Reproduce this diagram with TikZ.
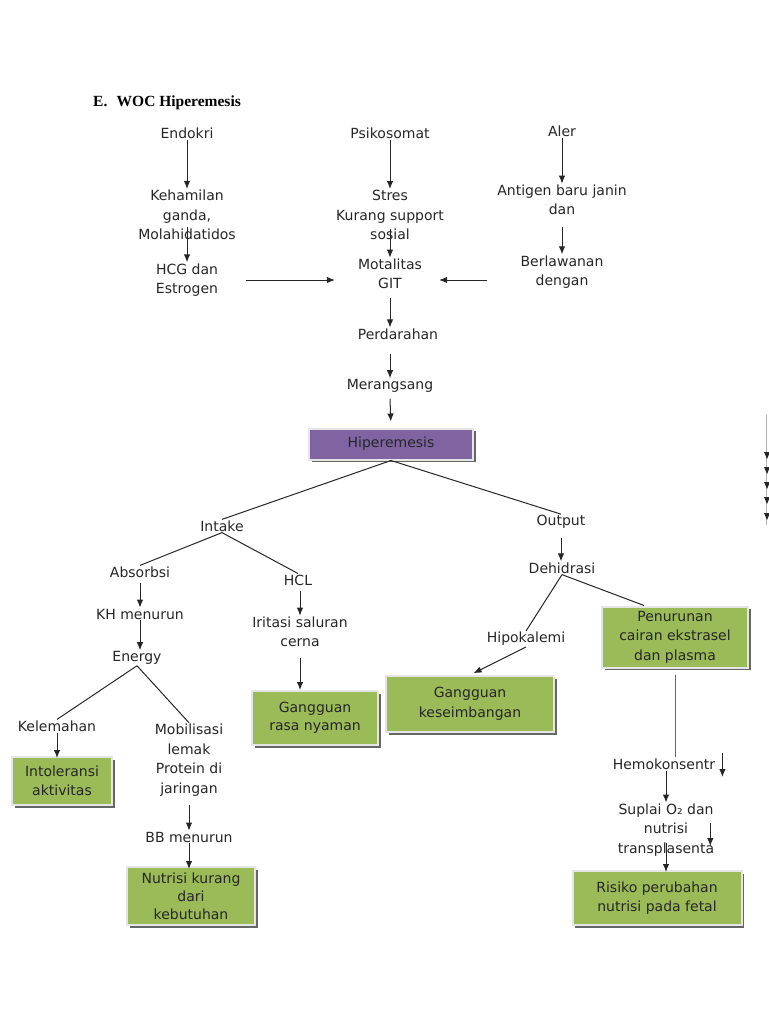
\documentclass[tikz,border=0pt]{standalone}
\usepackage{fontspec}
\setmainfont{DejaVu Sans}
\newfontfamily\titlefont{Liberation Serif}
\usetikzlibrary{arrows.meta, shadows}
\definecolor{hipurple}{HTML}{8064A2}
\definecolor{boxgreen}{HTML}{9BBB59}
\begin{document}
\begin{tikzpicture}[>={Latex[length=8pt,width=6.5pt]}, x=1pt, y=-1pt,
  font=\fontsize{14}{19.5}\selectfont,
  lbl/.style={align=center, text=black!85, inner sep=1pt},
  arr/.style={->, line width=1pt, draw=black!85},
  ln/.style={line width=1pt, draw=black!85},
  wordbox/.style={align=center, text=black!85, inner sep=3pt, draw=black!10, line width=2pt,
    drop shadow={shadow xshift=2.5pt, shadow yshift=-2.5pt, fill=black!60, opacity=1}},
  greenbox/.style={wordbox, fill=boxgreen},
  purplebox/.style={wordbox, fill=hipurple}]
\useasboundingbox (0,0) rectangle (768,1024);
\node[anchor=base west, inner sep=0pt, font=\titlefont\bfseries\fontsize{15.5}{18}\selectfont] (title) at (93,107) {E.\hspace{0.6em}WOC Hiperemesis};
\node[lbl] (endo) at (187,133) {Endokri};
\node[lbl] (keham) at (187,215) {Kehamilan\\ganda,\\Molahidatidos};
\node[lbl] (hcg) at (187,280) {HCG dan\\Estrogen};
\node[lbl] (psiko) at (390,133) {Psikosomat};
\node[lbl] (stres) at (390,215) {Stres\\Kurang support\\sosial};
\node[lbl] (motal) at (390,274) {Motalitas\\GIT};
\node[lbl] (aler) at (562,131) {Aler};
\node[lbl] (antigen) at (562,200) {Antigen baru janin\\dan};
\node[lbl] (berlaw) at (562,272) {Berlawanan\\dengan};
\node[lbl] (perdar) at (398,334) {Perdarahan};
\node[lbl] (merang) at (390,386) {Merangsang};
\node[purplebox, minimum width=164, minimum height=31] (hiper) at (391,444) {Hiperemesis};
\node[lbl] (intake) at (222,526) {Intake};
\node[lbl] (output) at (561,522) {Output};
\node[lbl] (absorb) at (140,572) {Absorbsi};
\node[lbl] (kh) at (140,614) {KH menurun};
\node[lbl] (energy) at (137,658) {Energy};
\node[lbl] (lemah) at (57,726) {Kelemahan};
\node[greenbox, minimum width=100, minimum height=48] (intol) at (62,781) {Intoleransi\\aktivitas};
\node[lbl] (mobil) at (189,760) {Mobilisasi\\lemak\\Protein di\\jaringan};
\node[lbl] (bb) at (189,837) {BB menurun};
\node[greenbox, minimum width=128, minimum height=58, font=\fontsize{14}{18}\selectfont] (nutri) at (191,896) {Nutrisi kurang\\dari\\kebutuhan};
\node[lbl] (hcl) at (298,580) {HCL};
\node[lbl] (iritasi) at (300,632) {Iritasi saluran\\cerna};
\node[greenbox, minimum width=126, minimum height=54, font=\fontsize{14}{18}\selectfont] (rasa) at (315,718) {Gangguan\\rasa nyaman};
\node[lbl] (dehid) at (562,568) {Dehidrasi};
\node[lbl] (hipok) at (526,639) {Hipokalemi};
\node[greenbox, minimum width=168, minimum height=56] (kesei) at (470,704) {Gangguan\\keseimbangan};
\node[greenbox, minimum width=146, minimum height=61] (penur) at (675,637) {Penurunan\\cairan ekstrasel\\dan plasma};
\node[lbl] (hemo) at (664,764) {Hemokonsentr};
\node[lbl] (suplai) at (666,830) {Suplai O₂ dan\\nutrisi\\transplasenta};
\node[greenbox, minimum width=169, minimum height=54] (risiko) at (657,898) {Risiko perubahan\\nutrisi pada fetal};
\draw[arr] (endo) -- (keham);
\draw[arr] ([yshift=14pt]keham.south) -- (hcg.north);
\draw[arr] (psiko) -- (stres);
\draw[arr] ([yshift=12pt]stres.south) -- (motal.north);
\draw[arr] ([xshift=27pt]hcg.east) -- ([xshift=-22pt]motal.west |- hcg.east);
\draw[arr] ([xshift=-32pt]berlaw.west |- hcg.east) -- ([xshift=16pt]motal.east |- hcg.east);
\draw[arr] (aler) -- (antigen);
\draw[arr] ([yshift=-11pt]antigen.south) -- (berlaw.north);
\draw[arr] ([yshift=-8pt]motal.south) -- (motal.south |- perdar.north);
\draw[arr] ([yshift=-13pt]perdar.south -| merang) -- (merang.north);
\draw[arr, shorten >=6pt] ([yshift=-5pt]merang.south) -- (hiper.north);
\draw[ln] (hiper.south) -- (intake.north);
\draw[ln] (hiper.south) -- (output.north);
\draw[ln] (intake.south) -- (absorb.north);
\draw[ln] (intake.south) -- (hcl.north);
\draw[arr, shorten <=4pt] (absorb) -- (kh);
\draw[arr] (kh.south) -- (kh.south |- energy.north);
\draw[ln] (energy.south) -- (lemah.north);
\draw[ln] (energy.south) -- (mobil.north);
\draw[arr] (lemah.south) -- ([yshift=-2pt]lemah.south |- intol.north);
\draw[arr, shorten <=8pt] (mobil) -- (bb);
\draw[arr] (bb.south) -- ([yshift=-3pt]bb.south |- nutri.north);
\draw[arr, shorten <=4pt] (hcl.south -| iritasi) -- (iritasi.north);
\draw[arr, shorten <=10pt] (iritasi.south) -- (iritasi.south |- rasa.north);
\draw[arr, shorten <=8pt] (output.south) -- (output.south |- dehid.north);
\draw[ln] (dehid.south) -- (hipok.north);
\draw[ln] (dehid.south) -- ([xshift=-31pt]penur.north);
\draw[arr, shorten >=4pt] (hipok.south) -- (kesei.north);
\draw[line width=1pt, black!60, shorten <=6pt] (penur.south) -- (penur.south |- hemo.north);
\draw[arr] ([xshift=6pt,yshift=11pt]hemo.east) -- ([xshift=6pt,yshift=-13pt]hemo.east);
\draw[arr] (suplai.north |- hemo.south) -- (suplai.north);
\draw[arr] ([xshift=-5pt,yshift=7pt]suplai.east) -- ([xshift=-5pt,yshift=-16pt]suplai.east);
\draw[arr] ([yshift=14pt]suplai.south) -- ([yshift=-2pt]suplai.south |- risiko.north);
\draw[black!30, line width=1pt] (766,415) -- (766,525);
\foreach \y in {457,472,487,502,518}
  \fill[black!85] (764,\y-5) -- (770,\y-5) -- (767,\y+2) -- cycle;
\end{tikzpicture}
\end{document}
